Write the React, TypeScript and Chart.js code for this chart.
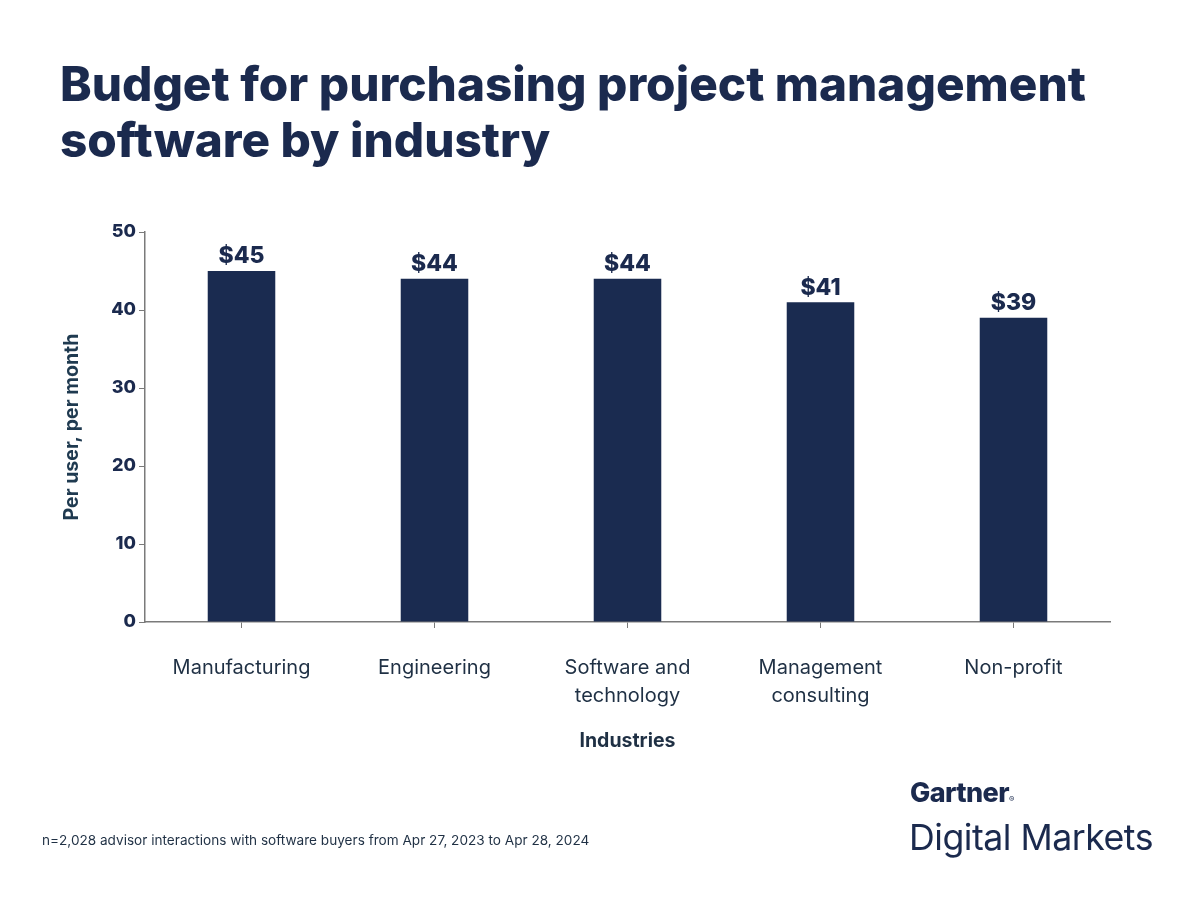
import React, { useEffect, useRef } from "react";
import { Chart, registerables } from "chart.js";

Chart.register(...registerables);

const categories: (string | string[])[] = [
  "Manufacturing",
  "Engineering",
  ["Software and", "technology"],
  ["Management", "consulting"],
  "Non-profit",
];
const values: number[] = [45, 44, 44, 41, 39];
const yTicks: number[] = [0, 10, 20, 30, 40, 50];

const BAR = "#1a2b50";
const NAVY = "#1b2a4e";
const TEXT = "#1f3044";

const valueLabels = {
  id: "valueLabels",
  afterDatasetsDraw(chart: any) {
    const ctx = chart.ctx;
    const meta = chart.getDatasetMeta(0);
    ctx.save();
    ctx.font = "800 23px Inter";
    ctx.fillStyle = NAVY;
    ctx.textAlign = "center";
    ctx.textBaseline = "bottom";
    meta.data.forEach((el: any, i: number) => {
      ctx.fillText("$" + values[i], el.x, el.y - 3);
    });
    ctx.restore();
  },
};

export default function App() {
  const ref = useRef<HTMLCanvasElement>(null);
  useEffect(() => {
    document.body.style.margin = "0";
    const chart = new Chart(ref.current!, {
      type: "bar",
      data: {
        labels: categories,
        datasets: [
          {
            data: values,
            backgroundColor: BAR,
            barPercentage: 0.35,
            categoryPercentage: 1,
          },
        ],
      },
      options: {
        animation: false,
        responsive: false,
        layout: { padding: { left: 0, right: 90, top: 232, bottom: 147 } },
        plugins: { legend: { display: false }, tooltip: { enabled: false } },
        scales: {
          x: {
            grid: { display: true, offset: false, drawOnChartArea: false, drawTicks: true, tickLength: 6, color: "#7a7a7a" },
            border: { display: true, color: "#7a7a7a", width: 1.5 },
            ticks: { color: TEXT, font: { family: "Inter", size: 20, weight: "normal" as any, lineHeight: 1.4 }, padding: 26, maxRotation: 0, autoSkip: false },
            title: { display: true, text: "Industries", color: TEXT, font: { family: "Inter", size: 19.5, weight: "bold" as any }, padding: { top: 20, bottom: 0 } },
            afterFit(scale: any) {
              scale.height = 131;
            },
          },
          y: {
            min: 0,
            max: 50,
            afterBuildTicks(scale: any) {
              scale.ticks = yTicks.map((v) => ({ value: v }));
            },
            grid: { display: true, drawOnChartArea: false, drawTicks: true, tickLength: 6, color: "#7a7a7a" },
            border: { display: true, color: "#7a7a7a", width: 1.5 },
            ticks: { color: NAVY, font: { family: "Inter", size: 18, weight: 800 as any }, padding: 3 },
            title: { display: true, text: "Per user, per month", color: "#1f3a50", font: { family: "Inter", size: 19.5, weight: "bold" as any }, padding: { top: 60, bottom: 0 } },
            afterFit(scale: any) {
              scale.width = 145;
            },
          },
        },
      },
      plugins: [valueLabels],
    });
    return () => chart.destroy();
  }, []);

  return (
    <div style={{ position: "relative", width: 1200, height: 900, background: "#fff", fontFamily: "Inter" }}>
      <canvas ref={ref} width={1200} height={900} style={{ position: "absolute", left: 0, top: 0 }} />
      <div style={{ position: "absolute", left: 60, top: 56, fontSize: 47.7, fontWeight: 800, lineHeight: "56px", color: NAVY, letterSpacing: 0 }}>
        Budget for purchasing project management
        <br />
        software by industry
      </div>
      <div style={{ position: "absolute", left: 42, top: 832, fontSize: 13.6, color: TEXT }}>
        n=2,028 advisor interactions with software buyers from Apr 27, 2023 to Apr 28, 2024
      </div>
      <div style={{ position: "absolute", left: 910, top: 776, fontSize: 27, fontWeight: 800, color: NAVY, letterSpacing: -0.6 }}>
        Gartner<span style={{ fontSize: 8, fontWeight: 400 }}>®</span>
      </div>
      <div style={{ position: "absolute", left: 909, top: 815, fontSize: 35.7, fontWeight: 400, color: NAVY, letterSpacing: -0.5 }}>
        Digital Markets
      </div>
    </div>
  );
}
